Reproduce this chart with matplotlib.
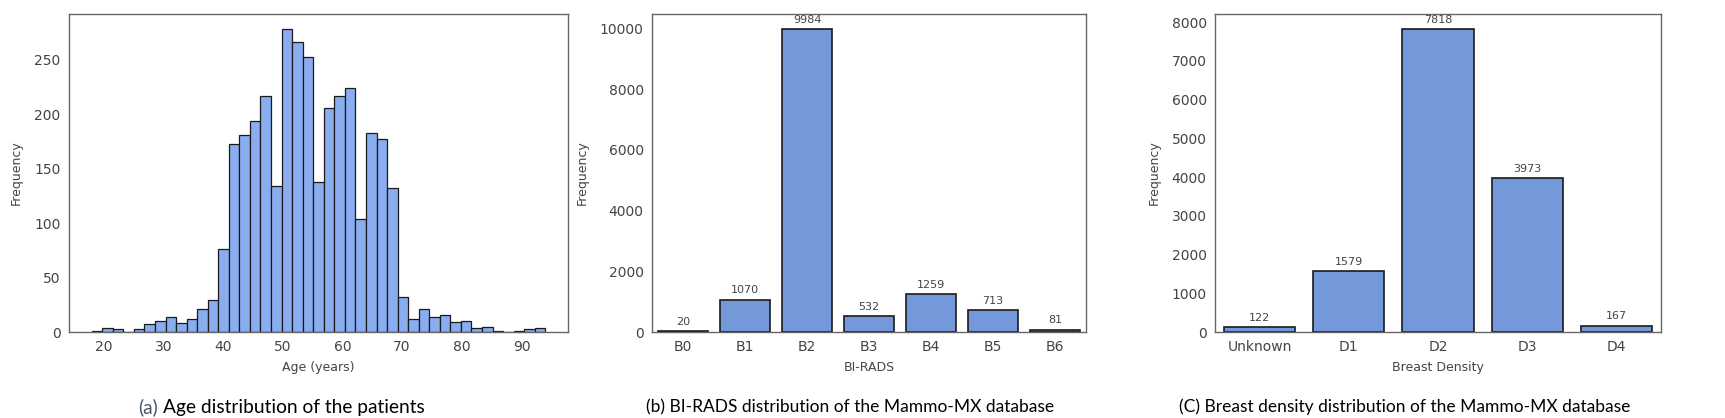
import numpy as np
import matplotlib
matplotlib.use("Agg")
import matplotlib.pyplot as plt

# age histogram (43 bins from 18 to 94 years)
age_min, age_max = 18, 94
age_counts = [1, 4, 3, 0, 3, 7, 10, 14, 8, 12, 21, 29, 76, 173, 181, 194, 217, 134, 278,
              266, 252, 138, 206, 217, 224, 104, 183, 177, 132, 32, 12, 21, 14, 16, 9, 10,
              4, 5, 1, 0, 1, 3, 4]

birads_labels = ["B0", "B1", "B2", "B3", "B4", "B5", "B6"]
birads_counts = [20, 1070, 9984, 532, 1259, 713, 81]

density_labels = ["Unknown", "D1", "D2", "D3", "D4"]
density_counts = [122, 1579, 7818, 3973, 167]

hist_color = "#8aadf0"
bar_color = "#7499db"
tick_color = "#444444"
spine_color = "#666666"

fig = plt.figure(figsize=(17.25, 4.18), dpi=100)
W, H = 1725, 418
boxes = [(69, 568), (652, 1086), (1215, 1661)]
top, bottom = 14, 332
axes = []
for l, r in boxes:
    ax = fig.add_axes([l / W, 1 - bottom / H, (r - l) / W, (bottom - top) / H])
    for s in ax.spines.values():
        s.set_color(spine_color)
        s.set_linewidth(1.0)
    ax.tick_params(length=0, labelsize=10, labelcolor=tick_color, pad=6)
    ax.set_ylabel("Frequency", fontsize=9, color=tick_color, labelpad=8)
    axes.append(ax)

# (a) age histogram
ax = axes[0]
edges = np.linspace(age_min, age_max, len(age_counts) + 1)
ax.bar(edges[:-1], age_counts, width=np.diff(edges), align="edge",
       color=hist_color, edgecolor="#1a1a1a", linewidth=0.9)
ax.set_xlabel("Age (years)", fontsize=9, color=tick_color, labelpad=5)
ax.set_yticks([0, 50, 100, 150, 200, 250])

# (b) BI-RADS and (c) density bars
def bar_panel(ax, labels, counts, xlabel):
    x = np.arange(len(labels))
    bars = ax.bar(x, counts, width=0.8, color=bar_color, edgecolor="#1a1a1a", linewidth=1.2)
    ax.set_xticks(x)
    ax.set_xticklabels(labels)
    ax.set_xlim(-0.5, len(labels) - 0.5)
    for b, c in zip(bars, counts):
        ax.annotate(str(c), (b.get_x() + b.get_width() / 2, c), xytext=(0, 3),
                    textcoords="offset points", ha="center", va="bottom",
                    fontsize=8, color=tick_color)
    ax.set_xlabel(xlabel, fontsize=9, color=tick_color, labelpad=5)

bar_panel(axes[1], birads_labels, birads_counts, "BI-RADS")
bar_panel(axes[2], density_labels, density_counts, "Breast Density")

# captions
cap_font = "Lato"
cap_size = 12.5
cap_y = 1 - 407 / H
t = fig.text(138 / W, cap_y, "(a)", fontsize=13.8, family=cap_font, color="#44546a",
             ha="left", va="center")
fig.canvas.draw()
bb = t.get_window_extent()
fig.text(bb.x1 / W + 5 / W, cap_y, "Age distribution of the patients", fontsize=13.8,
         family=cap_font, color="black", ha="left", va="center")
fig.text(850 / W, cap_y, "(b) BI-RADS distribution of the Mammo-MX database",
         fontsize=cap_size, family=cap_font, ha="center", va="center")
fig.text(1405 / W, cap_y, "(C) Breast density distribution of the Mammo-MX database",
         fontsize=cap_size, family=cap_font, ha="center", va="center")

fig.savefig("out.png", dpi=100)
